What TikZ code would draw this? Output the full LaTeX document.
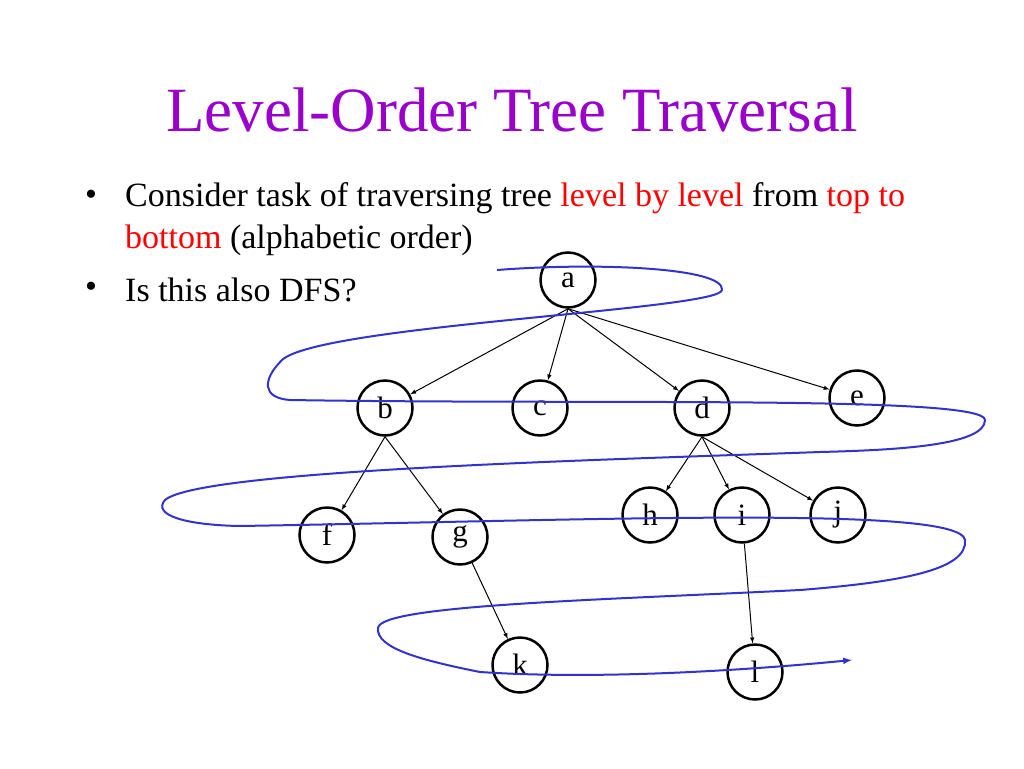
\documentclass[tikz,border=0pt]{standalone}
\usepackage{fontspec}
\setmainfont{Liberation Serif}
\begin{document}
\begin{tikzpicture}[x=1pt,y=-1pt,
  tn/.style={circle,draw,line width=2.5pt,minimum size=55pt,inner sep=0pt,font=\fontsize{31}{33}\selectfont},
  ed/.style={-latex,line width=1pt},
  txt/.style={anchor=west,font=\fontsize{34}{38}\selectfont,inner sep=0pt}]
\useasboundingbox (0,0) rectangle (1024,768);
\node[font=\fontsize{63}{66}\selectfont,text={rgb,255:red,153;green,0;blue,204}] (title) at (512,110) {Level-Order Tree Traversal};
\node[txt] (b1) at (85,198) {\textbullet};
\node[txt] (t1) at (125,198) {Consider task of traversing tree \textcolor{red}{level by level} from \textcolor{red}{top to}};
\node[txt] (t2) at (125,240) {\textcolor{red}{bottom} (alphabetic order)};
\node[txt] (b2) at (85,290) {\textbullet};
\node[txt] (t3) at (125,290) {Is this also DFS?};
\node[tn,text depth=-12pt] (a) at (568,280) {a};
\node[tn] (b) at (385,408) {b};
\node[tn] (c) at (540,408) {c};
\node[tn] (d) at (702,408) {d};
\node[tn] (e) at (857,398) {e};
\node[tn] (f) at (327,535) {f};
\node[tn] (g) at (460,537) {g};
\node[tn] (h) at (650,515) {h};
\node[tn] (i) at (742,515) {i};
\node[tn] (j) at (838,515) {j};
\node[tn] (k) at (520,665) {k};
\node[tn] (l) at (755,672) {l};
\foreach \x in {b,c,d,e} \draw[ed] (a.south) -- (\x);
\foreach \x in {f,g} \draw[ed] (b.south) -- (\x);
\foreach \x in {h,i,j} \draw[ed] (d.south) -- (\x);
\draw[ed] (g) -- (k);
\draw[ed] (i) -- (l);
\coordinate (s) at (497,270);
\coordinate (end) at (852,660);
\draw[line width=2pt,color={rgb,255:red,51;green,51;blue,204},-latex]
 (s) .. controls (600,262) and (725,268) .. (722,290)
 .. controls (720,310) and (320,325) .. (282,360)
 .. controls (262,380) and (262,398) .. (290,400)
 .. controls (600,405) and (985,395) .. (985,420)
 .. controls (985,445) and (900,450) .. (820,452)
 .. controls (600,460) and (200,470) .. (165,500)
 .. controls (152,515) and (185,525) .. (240,526)
 .. controls (600,520) and (960,505) .. (965,540)
 .. controls (968,570) and (900,582) .. (800,590)
 .. controls (600,600) and (380,605) .. (378,628)
 .. controls (376,648) and (420,660) .. (480,672)
 .. controls (600,680) and (750,670) .. (end);
\end{tikzpicture}
\end{document}
